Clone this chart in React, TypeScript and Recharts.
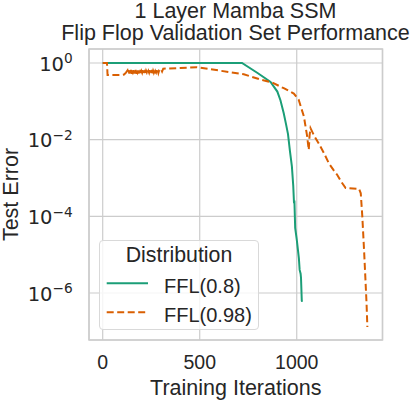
import React from 'react';
import { LineChart, Line, XAxis, YAxis, CartesianGrid, ReferenceArea, Legend, Label } from 'recharts';

const TITLE_LINES = ['1 Layer Mamba SSM', 'Flip Flop Validation Set Performance'];
const X_TICKS = [0, 500, 1000];
const Y_TICKS = [1, 1e-2, 1e-4, 1e-6];
const X_DOMAIN = [-70.6, 1442];
const Y_DOMAIN = [5.94e-8, 2.32];

const SERIES_NAMES = ['FFL(0.8)', 'FFL(0.98)'];
const COLORS = ['#1b9e77', '#d95f02'];

const ffl08Iters = [0, 718, 800, 865, 900, 916, 933, 945, 955, 965, 975, 982, 986, 988, 992, 1000, 1011, 1015, 1020, 1022, 1026, 1028];
const ffl08Err = [1.0, 1.0, 0.54, 0.32, 0.18, 0.107, 0.049, 0.025, 0.014, 0.005, 0.002, 6.3e-4, 2.2e-4, 2.6e-4, 5e-5, 2.5e-5, 8.1e-6, 4e-6, 3.2e-6, 2.5e-6, 6.3e-7, 5.9e-7];

const ffl098Iters = [
  0, 22, 25, 100, 110, 120, 128,
  131, 134, 137, 140, 143, 146, 149, 152, 155, 158, 161, 164, 167, 170, 173, 176, 179, 182, 185, 188,
  191, 194, 197, 200, 203, 206, 209, 212, 215, 218, 221, 224, 227, 230, 233, 236, 239, 242, 245, 248,
  251, 254, 257, 260, 263, 266, 269, 272, 275, 278, 281, 284, 287, 290, 296, 302, 306, 312,
  400, 485, 606, 727, 813, 873, 933, 985, 1010, 1037, 1054, 1058, 1062, 1066, 1071, 1090, 1114, 1140, 1166,
  1190, 1209, 1230, 1252, 1321, 1330, 1338, 1347, 1355, 1360, 1364,
];
const ffl098Err = [
  1.0, 1.0, 0.49, 0.49, 0.5, 0.56, 0.64,
  0.55, 0.65, 0.53, 0.63, 0.56, 0.66, 0.52, 0.62, 0.57, 0.65, 0.53, 0.61, 0.55, 0.66, 0.52, 0.63, 0.57, 0.64, 0.53, 0.62,
  0.55, 0.66, 0.52, 0.61, 0.56, 0.65, 0.53, 0.63, 0.55, 0.66, 0.52, 0.62, 0.57, 0.64, 0.53, 0.61, 0.56, 0.65, 0.52, 0.63,
  0.55, 0.66, 0.53, 0.62, 0.56, 0.64, 0.52, 0.61, 0.57, 0.65, 0.53, 0.63, 0.55, 0.62, 0.58, 0.66, 0.6, 0.71,
  0.74, 0.78, 0.63, 0.51, 0.37, 0.31, 0.22, 0.16, 0.11, 0.04, 0.012, 0.0079, 0.0054, 0.0126, 0.02, 0.0126, 0.0079, 0.0045, 0.0024,
  0.0016, 0.0012, 0.00079, 0.00055, 0.00052, 0.0004, 9.8e-5, 1.3e-5, 1.8e-6, 5e-7, 1.3e-7,
];

const data08 = ffl08Iters.map((x, i) => ({ x, y: ffl08Err[i] }));
const data098 = ffl098Iters.map((x, i) => ({ x, y: ffl098Err[i] }));

const SANS = '"Liberation Sans", Arial, Helvetica, sans-serif';
const MATH = '"DejaVu Sans", sans-serif';
const TEXT = '#262626';
const GRID = '#cccccc';

const YTick = (props: any) => {
  const { x, y, payload } = props;
  const exp = Math.round(Math.log10(payload.value));
  const sup = exp === 0 ? '0' : '\u2212' + String(-exp);
  return (
    <text x={x} y={y + 7.7} textAnchor="end" fill={TEXT} fontFamily={MATH} fontSize={19.5}>
      <tspan>10</tspan>
      <tspan dy={-7.4} fontSize={13.7}>{sup}</tspan>
    </text>
  );
};

const XTick = (props: any) => {
  const { x, y, payload } = props;
  return (
    <text x={x} y={y} dy="0.71em" textAnchor="middle" fill={TEXT} fontFamily={SANS} fontSize={19.5}>
      {payload.value}
    </text>
  );
};

const LegendBox = () => (
  <div
    style={{
      boxSizing: 'border-box',
      width: 160,
      height: 90,
      border: '1px solid #d9d9d9',
      borderRadius: 4,
      background: 'rgba(255,255,255,0.8)',
    }}
  >
    <svg width={158} height={88} style={{ display: 'block' }}>
      <text x={79} y={21.3} textAnchor="middle" fill={TEXT} fontFamily={SANS} fontSize={21.3}>
        Distribution
      </text>
      <line x1={6.7} x2={48} y1={42.3} y2={42.3} stroke={COLORS[0]} strokeWidth={2} />
      <text x={64} y={51.5} fill={TEXT} fontFamily={SANS} fontSize={20}>
        {SERIES_NAMES[0]}
      </text>
      <line x1={6.7} x2={48} y1={71.3} y2={71.3} stroke={COLORS[1]} strokeWidth={2} strokeDasharray="7 3.5" />
      <text x={64} y={80.5} fill={TEXT} fontFamily={SANS} fontSize={20}>
        {SERIES_NAMES[1]}
      </text>
    </svg>
  </div>
);

export default function App() {
  return (
    <div style={{ position: 'absolute', left: 0, top: 0, width: 417, height: 400, background: '#fff' }}>
      <svg width={417} height={48} style={{ position: 'absolute', left: 0, top: 0 }}>
        <text x={235.5} y={18} textAnchor="middle" fill={TEXT} fontFamily={SANS} fontSize={21.5}>
          {TITLE_LINES[0]}
        </text>
        <text x={235.5} y={40} textAnchor="middle" fill={TEXT} fontFamily={SANS} fontSize={21.5}>
          {TITLE_LINES[1]}
        </text>
      </svg>
      <div style={{ position: 'absolute', left: 0, top: 0 }}>
        <LineChart width={417} height={400} margin={{ top: 49, right: 34.5, bottom: 0, left: 0 }}>
          <CartesianGrid stroke={GRID} strokeWidth={1.2} />
          <ReferenceArea
            x1={X_DOMAIN[0]}
            x2={X_DOMAIN[1]}
            y1={Y_DOMAIN[0]}
            y2={Y_DOMAIN[1]}
            fill="none"
            stroke={GRID}
            strokeWidth={1.5}
            ifOverflow="visible"
          />
          <XAxis
            dataKey="x"
            type="number"
            domain={X_DOMAIN}
            ticks={X_TICKS}
            allowDataOverflow
            height={60}
            axisLine={false}
            tickLine={false}
            tickSize={13}
            tickMargin={2}
            tick={<XTick />}
          >
            <Label
              content={(p: any) => {
                const vb = p.viewBox;
                return (
                  <text x={vb.x + vb.width / 2} y={395} textAnchor="middle" fill={TEXT} fontFamily={SANS} fontSize={21.5}>
                    Training Iterations
                  </text>
                );
              }}
            />
          </XAxis>
          <YAxis
            dataKey="y"
            type="number"
            scale="log"
            domain={Y_DOMAIN}
            ticks={Y_TICKS}
            allowDataOverflow
            width={89}
            axisLine={false}
            tickLine={false}
            tickSize={14.3}
            tickMargin={2}
            tick={<YTick />}
          >
            <Label
              content={(p: any) => {
                const vb = p.viewBox;
                const cy = vb.y + vb.height / 2;
                return (
                  <text x={17.5} y={cy} transform={`rotate(-90, 17.5, ${cy})`} textAnchor="middle" fill={TEXT} fontFamily={SANS} fontSize={21.5}>
                    Test Error
                  </text>
                );
              }}
            />
          </YAxis>
          <Line
            data={data08}
            dataKey="y"
            name={SERIES_NAMES[0]}
            type="linear"
            stroke={COLORS[0]}
            strokeWidth={2}
            dot={false}
            isAnimationActive={false}
          />
          <Line
            data={data098}
            dataKey="y"
            name={SERIES_NAMES[1]}
            type="linear"
            stroke={COLORS[1]}
            strokeWidth={2}
            strokeDasharray="7 3.5"
            dot={false}
            isAnimationActive={false}
          />
          <Legend
            layout="vertical"
            align="center"
            verticalAlign="middle"
            content={<LegendBox />}
            wrapperStyle={{ position: 'absolute', left: 99, top: 240, width: 160, height: 90 }}
          />
        </LineChart>
      </div>
    </div>
  );
}
